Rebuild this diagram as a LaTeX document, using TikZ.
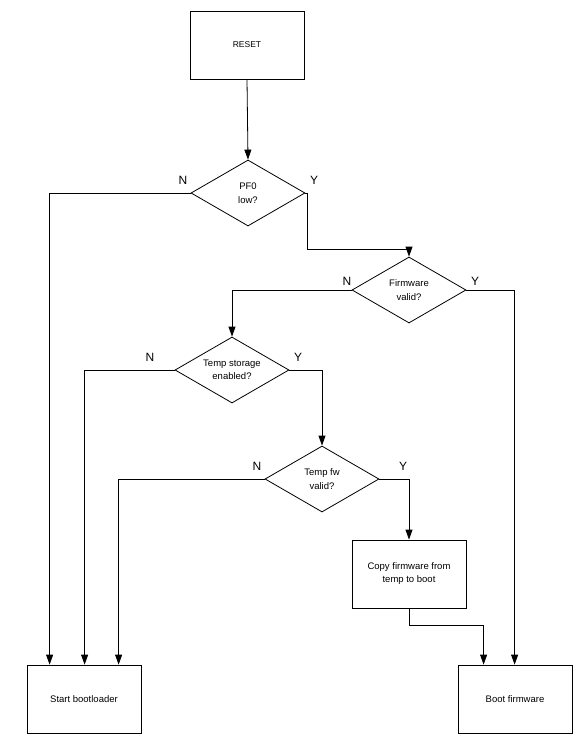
\documentclass[tikz,border=0pt]{standalone}
\usepackage{fontspec}
\setmainfont{Liberation Sans}
\usetikzlibrary{arrows.meta,shapes.geometric}
\begin{document}
\begin{tikzpicture}[x=1pt,y=-1pt,
  every path/.style={line width=0.8pt},
  procbox/.style={draw, rectangle, minimum width=114pt, minimum height=68pt, inner sep=0pt, align=center, font=\fontsize{9.5}{13}\selectfont},
  decision/.style={draw, diamond, aspect=2, minimum width=114pt, minimum height=66pt, inner sep=0pt, align=center, font=\fontsize{9.5}{13.5}\selectfont},
  yn/.style={font=\fontsize{12}{12}\selectfont, inner sep=0pt},
  arr/.style={-{Triangle[length=10pt,width=7pt]}}
]
\useasboundingbox (0,0) rectangle (581,746);

\node[procbox, font=\fontsize{8.5}{11}\selectfont] (reset) at (247,45) {RESET};
\node[decision] (pf0) at (248,193) {PF0\\low?};
\node[decision] (fw) at (409,290) {Firmware\\valid?};
\node[decision] (ts) at (232,370) {Temp storage\\enabled?};
\node[decision] (tf) at (322,479) {Temp fw\\valid?};
\node[procbox] (cp) at (409,574) {Copy firmware from\\temp to boot};
\node[procbox] (sb) at (84,699) {Start bootloader};
\node[procbox] (bf) at (515,699) {Boot firmware};

\node[yn] (n1) at (183,180) {N};
\node[yn] (y1) at (314,180) {Y};
\node[yn] (n2) at (347,281) {N};
\node[yn] (y2) at (475,281) {Y};
\node[yn] (n3) at (150,357) {N};
\node[yn] (y3) at (298,357) {Y};
\node[yn] (n4) at (257,466) {N};
\node[yn] (y4) at (403,466) {Y};

\draw[arr] (reset.south) -- (pf0.north);
\draw[arr] (pf0.west) -| ([xshift=23pt]sb.north west);
\draw[arr] (pf0.east) -- ++(2,0) |- ([yshift=7pt]fw.north) -- (fw.north);
\draw[arr] (fw.west) -| (ts.north);
\draw[arr] (fw.east) -| ([xshift=57pt]bf.north west);
\draw[arr] (ts.west) -| ([xshift=58pt]sb.north west);
\draw[arr] (ts.east) -| (tf.north);
\draw[arr] (tf.west) -| ([xshift=92pt]sb.north west);
\draw[arr] (tf.east) -| (cp.north);
\draw[arr] (cp.south) -- ++(0,17) -| ([xshift=26pt]bf.north west);
\end{tikzpicture}
\end{document}
